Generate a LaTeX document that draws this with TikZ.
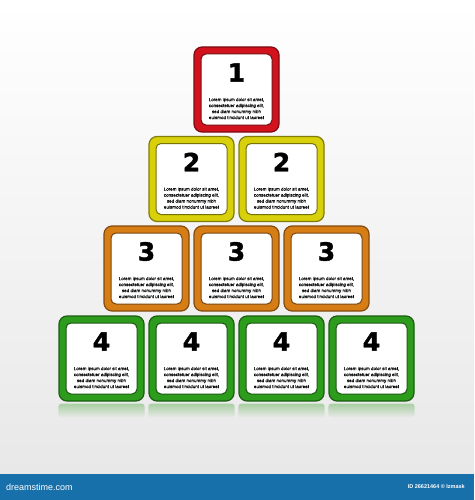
\documentclass[tikz,border=0pt]{standalone}
\usepackage{fontspec}
\setmainfont{Liberation Sans}
\newfontfamily\numfont[FakeBold=1.6]{DejaVu Sans Bold}
\newfontfamily\lorfont[FakeBold=0.3]{Liberation Sans}
\usetikzlibrary{fadings}
\definecolor{cred}{RGB}{210,18,28}
\definecolor{cyel}{RGB}{215,208,10}
\definecolor{corg}{RGB}{215,125,22}
\definecolor{cgrn}{RGB}{45,155,28}
\definecolor{banner}{RGB}{24,112,170}
\tikzset{
  frame/.style={rounded corners=8pt, minimum width=85pt, minimum height=85pt, inner sep=0pt,
    fill=#1, draw=#1!60!black, line width=1.2pt},
  innerbox/.style={fill=white, rounded corners=5pt, minimum width=71pt, minimum height=71pt,
    inner sep=0pt, draw=#1!55!black, line width=1pt},
  numtext/.style={font=\numfont\fontsize{25}{25}\selectfont, inner sep=0pt, text=black},
  lorem/.style={font=\lorfont\fontsize{4.5}{6}\selectfont, align=center, inner sep=0pt, text=black},
  bannertext/.style={text=white, inner sep=0pt}
}
\newcommand\tierbox[5]{%
  \node[frame=#4] (#1) at (#2,#3) {};
  \node[innerbox=#4] (#1w) at (#1.center) {};
  \node[numtext] (#1n) at ([yshift=17pt]#1.center) {#5};
  \node[lorem] (#1t) at ([yshift=-19pt]#1.center) {Lorem ipsum dolor sit amet,\\consectetuer adipiscing elit,\\sed diam nonummy nibh\\euismod tincidunt ut laoreet};
}
\newcommand\reflect[2]{%
  \fill[#2, opacity=0.35, path fading=south, rounded corners=3pt] ([yshift=-2pt]#1.south west) rectangle ([yshift=-16pt]#1.south east);
}
\begin{document}
\begin{tikzpicture}[x=1pt,y=-1pt]
\useasboundingbox (0,0) rectangle (474,500);
\fill[top color=white, bottom color=black!9] (0,0) rectangle (474,474);
\fill[banner] (0,474) rectangle (474,500);
\node[bannertext, anchor=west, font=\fontsize{9}{9}\selectfont] (logo) at (6,487) {dreamstime.com};
\node[bannertext, anchor=east, font=\bfseries\fontsize{5.5}{6}\selectfont] (idtext) at (465,487) {ID 26621464 \textcopyright{} Izmask};
% row 1
\tierbox{a1}{236.5}{89.5}{cred}{1}
% row 2
\tierbox{b1}{191.5}{179}{cyel}{2}
\tierbox{b2}{281.5}{179}{cyel}{2}
% row 3
\tierbox{c1}{146.5}{268.5}{corg}{3}
\tierbox{c2}{236.5}{268.5}{corg}{3}
\tierbox{c3}{326.5}{268.5}{corg}{3}
% row 4
\tierbox{d1}{101.5}{358.5}{cgrn}{4}
\tierbox{d2}{191.5}{358.5}{cgrn}{4}
\tierbox{d3}{281.5}{358.5}{cgrn}{4}
\tierbox{d4}{371.5}{358.5}{cgrn}{4}
\reflect{d1}{cgrn}
\reflect{d2}{cgrn}
\reflect{d3}{cgrn}
\reflect{d4}{cgrn}
\end{tikzpicture}
\end{document}
